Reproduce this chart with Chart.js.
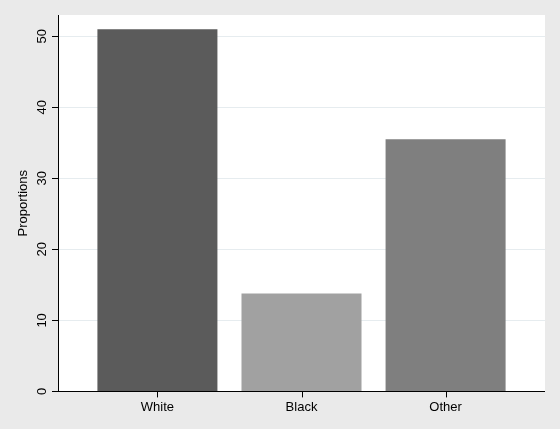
<!DOCTYPE html>
<html>
<head>
<meta charset="utf-8">
<script src="https://cdn.jsdelivr.net/npm/chart.js@4/dist/chart.umd.min.js"></script>
<style>
  html, body { margin: 0; padding: 0; background: #eaeaea; }
  #wrap { width: 560px; height: 429px; }
</style>
</head>
<body>
<div id="wrap"><canvas id="c" width="560" height="429"></canvas></div>
<script>
const categories = ["White", "Black", "Other"];
const proportions = [51.0, 13.8, 35.5];
const barColors = ["#5b5b5b", "#a1a1a1", "#7f7f7f"];
const yTicks = [0, 10, 20, 30, 40, 50];

// gray graph region, white plot region
const backdrop = {
  id: "backdrop",
  beforeDraw(chart) {
    const { ctx, chartArea: a } = chart;
    ctx.save();
    ctx.fillStyle = "#eaeaea";
    ctx.fillRect(0, 0, chart.width, chart.height);
    ctx.fillStyle = "#ffffff";
    ctx.fillRect(a.left, a.top, a.right - a.left, a.bottom - a.top);
    ctx.restore();
  }
};

// stata style rotated y tick labels
const rotatedTicks = {
  id: "rotatedTicks",
  afterDraw(chart) {
    const { ctx } = chart;
    const y = chart.scales.y;
    ctx.save();
    ctx.fillStyle = "#000";
    ctx.font = "13px 'Liberation Sans', Arial, sans-serif";
    ctx.textAlign = "center";
    ctx.textBaseline = "bottom";
    yTicks.forEach(v => {
      const py = y.getPixelForValue(v);
      ctx.save();
      ctx.translate(y.right - 9, py);
      ctx.rotate(-Math.PI / 2);
      ctx.fillText(String(v), 0, 0);
      ctx.restore();
    });
    ctx.restore();
  }
};

new Chart(document.getElementById("c"), {
  type: "bar",
  data: {
    datasets: [{
      data: categories.map((c, i) => ({ x: i, y: proportions[i] })),
      backgroundColor: barColors,
      borderWidth: 0,
      barPercentage: 0.833,
      categoryPercentage: 1
    }]
  },
  options: {
    responsive: false,
    animation: false,
    layout: { padding: { top: 15, right: 15, left: 16, bottom: 12 } },
    plugins: { legend: { display: false }, tooltip: { enabled: false } },
    scales: {
      x: {
        type: "linear",
        offset: false,
        min: -0.69,
        max: 2.69,
        afterBuildTicks(s) { s.ticks = categories.map((c, i) => ({ value: i })); },
        ticks: {
          callback: v => categories[v],
          color: "#000",
          font: { size: 13, family: "'Liberation Sans', Arial, sans-serif" },
          maxRotation: 0,
          padding: 2
        },
        grid: { display: false, offset: false, tickLength: 6 },
        border: { display: false }
      },
      y: {
        min: 0,
        max: 53,
        afterBuildTicks(s) { s.ticks = yTicks.map(v => ({ value: v })); },
        afterFit(s) { s.width = 42; },
        ticks: { display: false },
        grid: {
          color: ctx => ctx.tick.value === 0 ? "rgba(0,0,0,0)" : "#e6ecef",
          tickColor: "#000",
          tickLength: 6,
          drawTicks: true
        },
        border: { display: true, color: "#000", width: 1 },
        title: {
          display: true,
          text: "Proportions",
          color: "#000",
          font: { size: 13, family: "'Liberation Sans', Arial, sans-serif" },
          padding: { top: 0, bottom: 2 }
        }
      }
    }
  },
  plugins: [backdrop, rotatedTicks, {
    id: "xAxisLine",
    afterDraw(chart) {
      const { ctx, chartArea: a } = chart;
      ctx.save();
      ctx.strokeStyle = "#000";
      ctx.lineWidth = 1;
      ctx.beginPath();
      ctx.moveTo(a.left, Math.round(a.bottom) + 0.5);
      ctx.lineTo(a.right, Math.round(a.bottom) + 0.5);
      ctx.stroke();
      ctx.beginPath();
      categories.forEach((c, i) => {
        const px = Math.round(chart.scales.x.getPixelForValue(i)) + 0.5;
        ctx.moveTo(px, a.bottom);
        ctx.lineTo(px, a.bottom + 6);
      });
      ctx.stroke();
      ctx.restore();
    }
  }]
});
</script>
</body>
</html>
